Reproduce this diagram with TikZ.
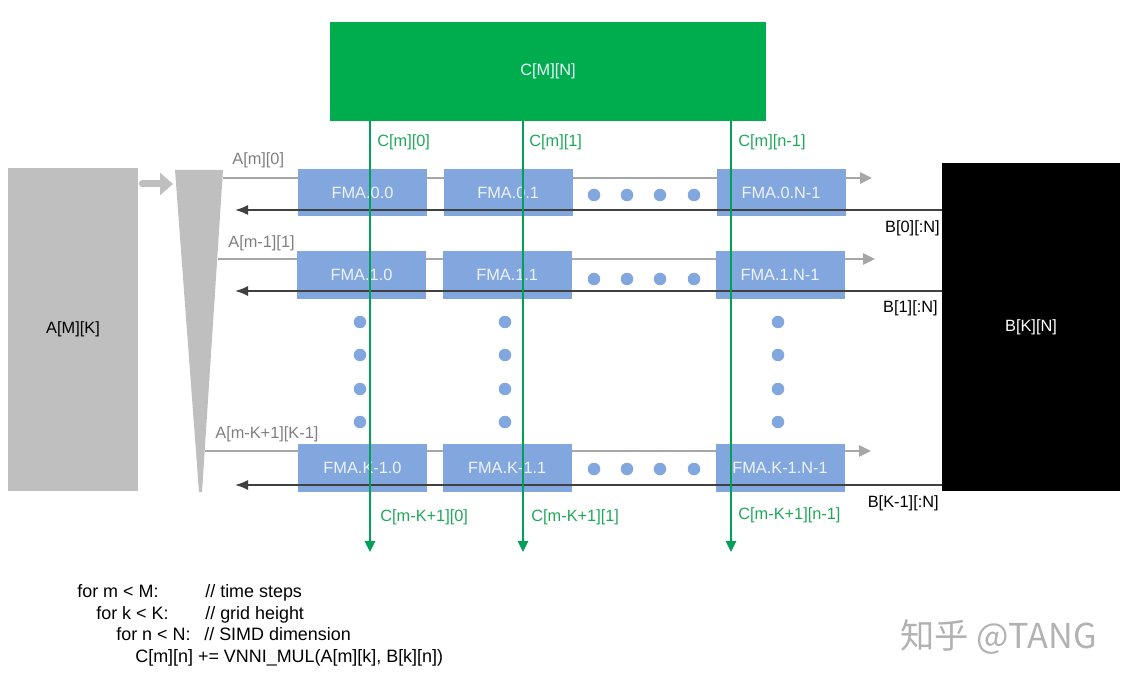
\documentclass[tikz,border=0pt]{standalone}
\usepackage{fontspec}
\setmainfont{Liberation Sans}
\newfontfamily\cjkfont{Noto Sans CJK SC}
\usepackage{xcolor}
\usetikzlibrary{arrows.meta,positioning}
\definecolor{gridBlue}{HTML}{82A7DE}
\definecolor{gridText}{HTML}{EEF3FB}
\definecolor{matGray}{HTML}{BFBFBF}
\definecolor{feedGray}{HTML}{A6A6A6}
\definecolor{labelGray}{HTML}{7F7F7F}
\definecolor{bLine}{HTML}{404040}
\definecolor{cFill}{HTML}{00AD4E}
\definecolor{cLine}{HTML}{00A05A}
\definecolor{cText}{HTML}{1FA85A}
\tikzset{
  fma box/.style={fill=gridBlue, text=gridText, minimum width=2.58cm,
    minimum height=0.95cm, inner sep=0pt, font=\fontsize{9.3}{11}\selectfont},
  matrix box/.style={inner sep=0pt, font=\fontsize{9.3}{11}\selectfont},
  a feed/.style={draw=feedGray, line width=0.9pt,
    -{Triangle[length=2.4mm,width=2.3mm]}},
  b feed/.style={draw=bLine, line width=0.9pt,
    -{Latex[length=2.6mm,width=2mm]}},
  c out/.style={draw=cLine, line width=0.8pt,
    -{Triangle[length=2.2mm,width=2.1mm]}},
  fat arrow/.style={draw=matGray, line width=1.4mm, line cap=round,
    -{Triangle[length=2.6mm,width=4.4mm]}},
  a label/.style={text=labelGray, anchor=west, inner sep=0pt,
    font=\fontsize{9.3}{11}\selectfont},
  b label/.style={anchor=east, inner sep=0pt,
    font=\fontsize{9.3}{11}\selectfont},
  c label/.style={text=cText, anchor=west, inner sep=0pt,
    font=\fontsize{9.3}{11}\selectfont},
  grid dot/.style={circle, fill=gridBlue, minimum size=2.5mm, inner sep=0pt},
  code line/.style={anchor=base west, inner sep=0pt,
    font=\fontsize{10.2}{12}\selectfont}
}

\begin{document}
\begin{tikzpicture}[x=0.02cm, y=-0.02cm]
  \useasboundingbox (0,0) rectangle (1124,685);
  % operand matrices
  \node[matrix box, fill=matGray, minimum width=2.6cm, minimum height=6.46cm]
    (amat) at (73,329.5) {A[M][K]};
  \node[matrix box, fill=cFill, text=gridText, minimum width=8.72cm,
    minimum height=1.98cm] (cmat) at (548,71.5) {C[M][N]};
  \node[matrix box, fill=black, text=white, minimum width=3.56cm,
    minimum height=6.56cm] (bmat) at (1031,327) {B[K][N]};
  \fill[matGray] (175,170) -- (223,170) -- (202,492) -- (199,492) -- cycle;
  \coordinate (fan) at (173,184);
  \draw[fat arrow, shorten <=0.08cm] (amat.east |- fan) -- (fan);

  % A feeds (behind the grid)
  \coordinate (ain0) at (223,178); \coordinate (aout0) at (872,178);
  \coordinate (ain1) at (218,259); \coordinate (aout1) at (875,259);
  \coordinate (ain2) at (205,451); \coordinate (aout2) at (871,451);
  \draw[a feed] (ain0) -- (aout0);
  \draw[a feed] (ain1) -- (aout1);
  \draw[a feed] (ain2) -- (aout2);

  % FMA grid
  \node[fma box] (f00) at (362.5,192.5) {FMA.0.0};
  \node[fma box, right=0.32cm of f00] (f01) {FMA.0.1};
  \node[fma box] (f0n) at (781,192.5) {FMA.0.N-1};
  \node[fma box] (f10) at (361.5,275) {FMA.1.0};
  \node[fma box, right=0.32cm of f10] (f11) {FMA.1.1};
  \node[fma box] (f1n) at (780,275) {FMA.1.N-1};
  \node[fma box] (fk0) at (362.5,468) {FMA.K-1.0};
  \node[fma box, right=0.3cm of fk0] (fk1) {FMA.K-1.1};
  \node[fma box] (fkn) at (780,468) {FMA.K-1.N-1};
  \foreach \r/\y in {0/195,1/279,2/469}
    \foreach \i/\x in {0/594,1/627,2/660,3/694}
      \node[grid dot] (hdot-\r-\i) at (\x,\y) {};
  \foreach \c/\x in {0/360,1/505,2/778}
    \foreach \i/\y in {0/322,1/355,2/389,3/422}
      \node[grid dot] (vdot-\c-\i) at (\x,\y) {};

  % B feeds
  \coordinate (bout0) at (235,210);
  \coordinate (bout1) at (235,291);
  \coordinate (bout2) at (235,485);
  \draw[b feed] (bmat.west |- bout0) -- (bout0);
  \draw[b feed] (bmat.west |- bout1) -- (bout1);
  \draw[b feed] (bmat.west |- bout2) -- (bout2);

  % C outputs
  \coordinate (cout0) at (370,552);
  \coordinate (cout1) at (523,552);
  \coordinate (cout2) at (731,552);
  \draw[c out] (cmat.south -| cout0) -- (cout0);
  \draw[c out] (cmat.south -| cout1) -- (cout1);
  \draw[c out] (cmat.south -| cout2) -- (cout2);

  % labels
  \node[a label] (la0) at (232,160) {A[m][0]};
  \node[a label] (la1) at (228,243) {A[m-1][1]};
  \node[a label] (la2) at (215,434) {A[m-K+1][K-1]};
  \node[b label] (lb0) at (940,228) {B[0][:N]};
  \node[b label] (lb1) at (938,308) {B[1][:N]};
  \node[b label] (lb2) at (939,503) {B[K-1][:N]};
  \node[c label] (lc0) at (377,142) {C[m][0]};
  \node[c label] (lc1) at (529,142) {C[m][1]};
  \node[c label] (lc2) at (738,142) {C[m][n-1]};
  \node[c label] (ld0) at (380,517) {C[m-K+1][0]};
  \node[c label] (ld1) at (531,517) {C[m-K+1][1]};
  \node[c label] (ld2) at (738,515) {C[m-K+1][n-1]};

  % loop nest
  \node[code line] (loop m) at (77,597) {for m < M:};
  \node[code line] (note m) at (205,597) {// time steps};
  \node[code line] (loop k) at (96,619) {for k < K:};
  \node[code line] (note k) at (205,619) {// grid height};
  \node[code line] (loop n) at (116,640) {for n < N:};
  \node[code line] (note n) at (204,640) {// SIMD dimension};
  \node[code line] (body) at (135,662) {C[m][n] += VNNI\_MUL(A[m][k], B[k][n])};

  \node[anchor=west, inner sep=0pt, text=black!30,
    font=\cjkfont\fontsize{19.5}{22}\selectfont] (mark) at (900,637)
    {知乎 @TANG};
\end{tikzpicture}
\end{document}
